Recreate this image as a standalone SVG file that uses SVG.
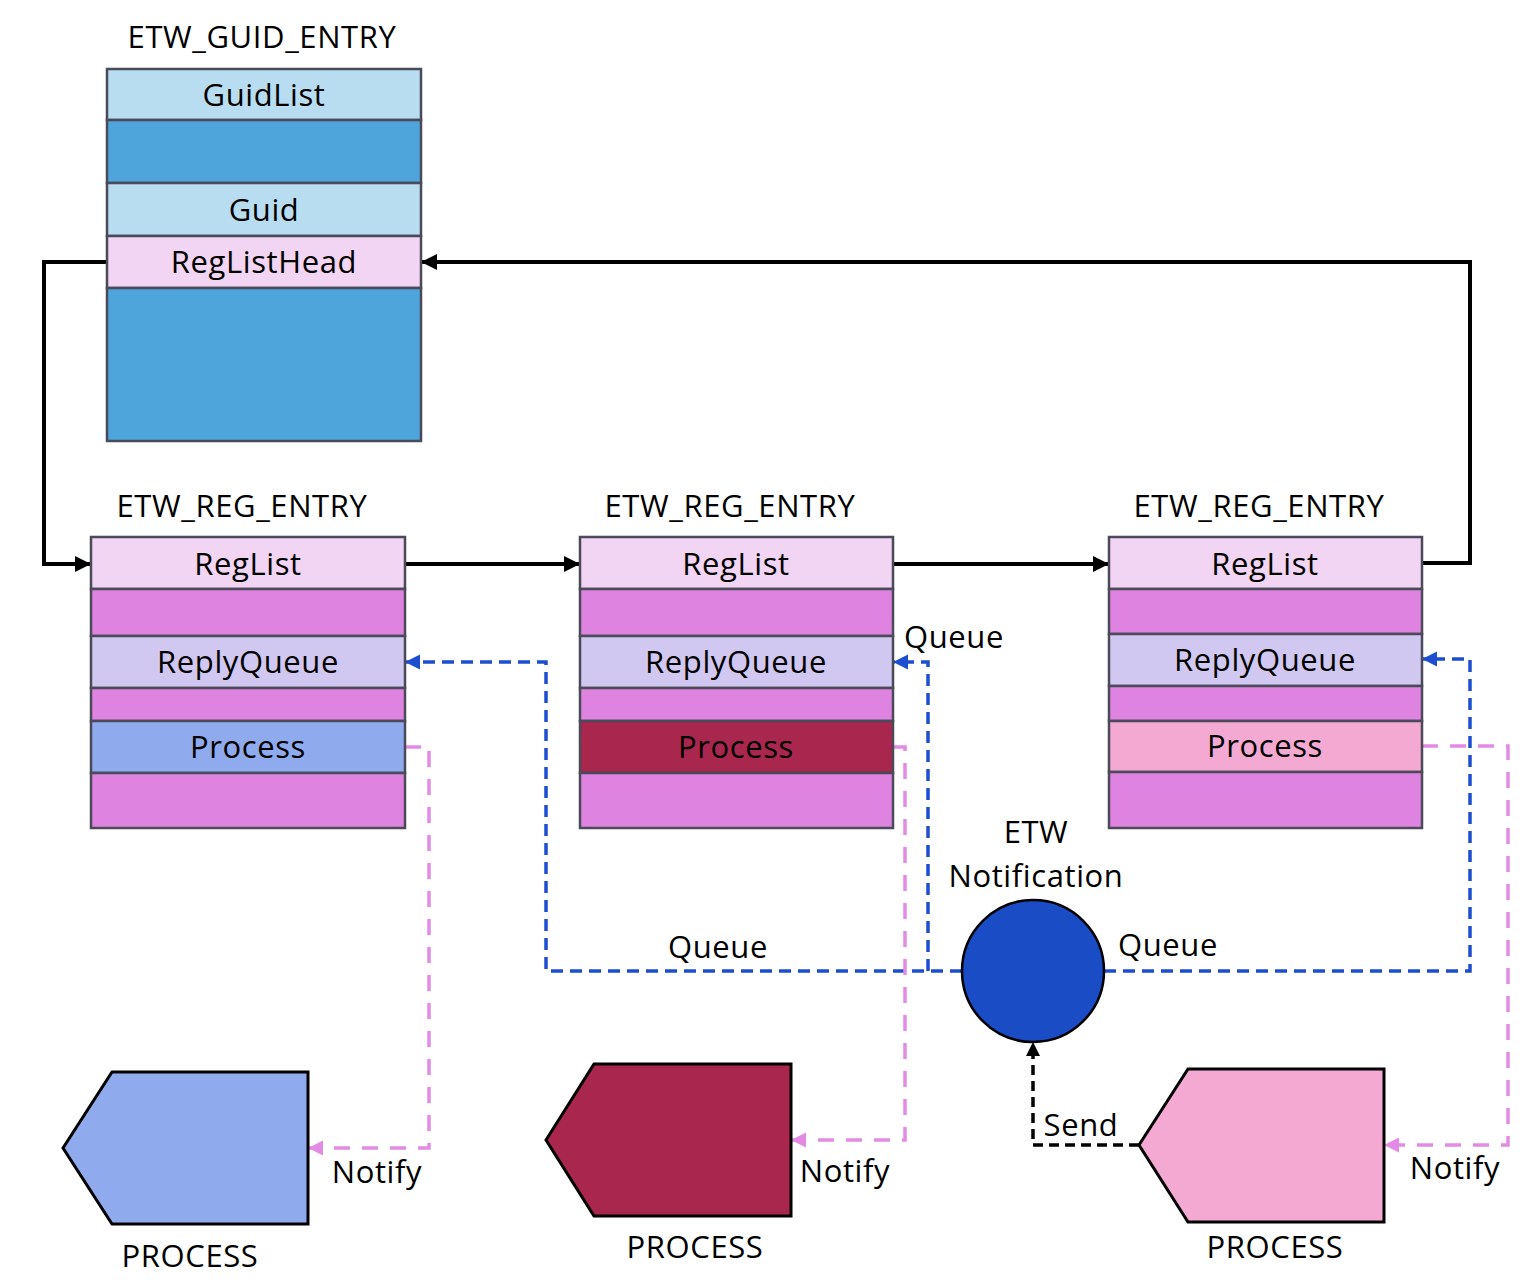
<svg xmlns="http://www.w3.org/2000/svg" width="1536" height="1283" viewBox="0 0 1536 1283">
<style>
.t{font-family:"Open Sans","DejaVu Sans",sans-serif;font-size:31px;letter-spacing:0.6px;fill:#000;text-anchor:middle}
.c{stroke:#4a4a58;stroke-width:2.5}
.lb{fill:#b8dcf0}.db{fill:#4ea5dc}.pk{fill:#f2d4f3}.mg{fill:#de84e0}.rq{fill:#d0c8f0}
.blk{fill:none;stroke:#000;stroke-width:4}
.blu{fill:none;stroke:#1d4ed0;stroke-width:3.5;stroke-dasharray:12 7}
.pnk{fill:none;stroke:#e38be4;stroke-width:3.5;stroke-dasharray:16 12}
.snd{fill:none;stroke:#000;stroke-width:3.5;stroke-dasharray:10 6}
.ps{stroke:#000;stroke-width:3}
</style>
<defs>
<marker id="ab" viewBox="0 0 10 10" refX="10" refY="5" markerWidth="4" markerHeight="4" orient="auto" markerUnits="strokeWidth"><path d="M0,0L10,5L0,10z" fill="#000"/></marker>
<marker id="au" viewBox="0 0 10 10" refX="10" refY="5" markerWidth="4.4" markerHeight="4.4" orient="auto" markerUnits="strokeWidth"><path d="M0,0L10,5L0,10z" fill="#1d4ed0"/></marker>
<marker id="ap" viewBox="0 0 10 10" refX="10" refY="5" markerWidth="4.4" markerHeight="4.4" orient="auto" markerUnits="strokeWidth"><path d="M0,0L10,5L0,10z" fill="#e38be4"/></marker>
<marker id="as" viewBox="0 0 10 10" refX="10" refY="5" markerWidth="4" markerHeight="4" orient="auto" markerUnits="strokeWidth"><path d="M0,0L10,5L0,10z" fill="#000"/></marker>
</defs>
<rect width="1536" height="1283" fill="#fff"/>

<g id="connectors">
<polyline class="blk" points="107,262 44,262 44,564 91,564" marker-end="url(#ab)"/>
<polyline class="blk" points="405,564 580,564" marker-end="url(#ab)"/>
<polyline class="blk" points="893,564 1109,564" marker-end="url(#ab)"/>
<polyline class="blk" points="1422,563 1470,563 1470,262 421,262" marker-end="url(#ab)"/>
<polyline class="blu" points="962,971 546,971 546,662 405,662" marker-end="url(#au)"/>
<polyline class="blu" points="928,971 928,662 893,662" marker-end="url(#au)"/>
<polyline class="blu" points="1104,971 1470,971 1470,659 1422,659" marker-end="url(#au)"/>
<polyline class="pnk" points="405,747 429,747 429,1148 308,1148" marker-end="url(#ap)"/>
<polyline class="pnk" points="893,747 905,747 905,1140 791,1140" marker-end="url(#ap)"/>
<polyline class="pnk" points="1422,746 1508,746 1508,1145 1384,1145" marker-end="url(#ap)"/>
<polyline class="snd" points="1139,1145 1033,1145 1033,1042" marker-end="url(#as)"/>
<text class="t" x="954" y="648">Queue</text>
<text class="t" x="718" y="958">Queue</text>
<text class="t" x="1168" y="956">Queue</text>
<text class="t" x="1081" y="1136">Send</text>
<text class="t" x="377" y="1183">Notify</text>
<text class="t" x="845" y="1182">Notify</text>
<text class="t" x="1455" y="1179">Notify</text>
</g>

<g id="etw_guid_entry">
<text class="t" x="262" y="48">ETW_GUID_ENTRY</text>
<rect class="c lb" x="107" y="69" width="314" height="51"/>
<rect class="c db" x="107" y="120" width="314" height="63"/>
<rect class="c lb" x="107" y="183" width="314" height="53"/>
<rect class="c pk" x="107" y="236" width="314" height="52"/>
<rect class="c db" x="107" y="288" width="314" height="153"/>
<text class="t" x="264" y="106">GuidList</text>
<text class="t" x="264" y="221">Guid</text>
<text class="t" x="264" y="273">RegListHead</text>
</g>

<g id="reg_entry_1">
<text class="t" x="242" y="517">ETW_REG_ENTRY</text>
<rect class="c pk" x="91" y="537" width="314" height="52"/>
<rect class="c mg" x="91" y="589" width="314" height="47"/>
<rect class="c rq" x="91" y="636" width="314" height="52"/>
<rect class="c mg" x="91" y="688" width="314" height="33"/>
<rect class="c" fill="#8fabee" x="91" y="721" width="314" height="52"/>
<rect class="c mg" x="91" y="773" width="314" height="55"/>
<text class="t" x="248" y="575">RegList</text>
<text class="t" x="248" y="673">ReplyQueue</text>
<text class="t" x="248" y="758">Process</text>
</g>

<g id="reg_entry_2">
<text class="t" x="730" y="517">ETW_REG_ENTRY</text>
<rect class="c pk" x="580" y="537" width="313" height="52"/>
<rect class="c mg" x="580" y="589" width="313" height="47"/>
<rect class="c rq" x="580" y="636" width="313" height="52"/>
<rect class="c mg" x="580" y="688" width="313" height="33"/>
<rect class="c" fill="#a9274e" x="580" y="721" width="313" height="52"/>
<rect class="c mg" x="580" y="773" width="313" height="55"/>
<text class="t" x="736" y="575">RegList</text>
<text class="t" x="736" y="673">ReplyQueue</text>
<text class="t" x="736" y="758">Process</text>
</g>

<g id="reg_entry_3">
<text class="t" x="1259" y="517">ETW_REG_ENTRY</text>
<rect class="c pk" x="1109" y="537" width="313" height="52"/>
<rect class="c mg" x="1109" y="589" width="313" height="45"/>
<rect class="c rq" x="1109" y="634" width="313" height="52"/>
<rect class="c mg" x="1109" y="686" width="313" height="35"/>
<rect class="c" fill="#f4a9d2" x="1109" y="721" width="313" height="51"/>
<rect class="c mg" x="1109" y="772" width="313" height="56"/>
<text class="t" x="1265" y="575">RegList</text>
<text class="t" x="1265" y="671">ReplyQueue</text>
<text class="t" x="1265" y="757">Process</text>
</g>

<g id="etw_notification">
<circle cx="1033" cy="971" r="71" fill="#1a4cc6" stroke="#000" stroke-width="2.5"/>
<text class="t" x="1036" y="843">ETW</text>
<text class="t" x="1036" y="887">Notification</text>
</g>

<g id="process_1">
<polygon class="ps" fill="#8fabee" points="63,1148 112,1072 308,1072 308,1224 112,1224"/>
<text class="t" x="190" y="1267">PROCESS</text>
</g>
<g id="process_2">
<polygon class="ps" fill="#a9274e" points="546,1140 594,1064 791,1064 791,1216 594,1216"/>
<text class="t" x="695" y="1258">PROCESS</text>
</g>
<g id="process_3">
<polygon class="ps" fill="#f4a9d2" points="1139,1145 1188,1069 1384,1069 1384,1222 1188,1222"/>
<text class="t" x="1275" y="1258">PROCESS</text>
</g>
</svg>
